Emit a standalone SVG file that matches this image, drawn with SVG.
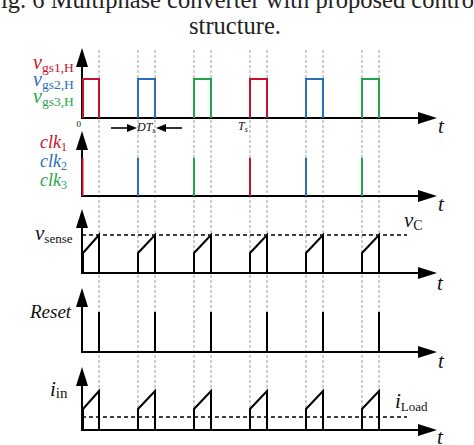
<svg xmlns="http://www.w3.org/2000/svg" width="474" height="445" viewBox="0 0 474 445">
<style>
.title{font-family:"Liberation Serif","Times New Roman",serif;font-size:24.5px;fill:#222}
.lbl{font-family:"Liberation Serif","Times New Roman",serif;fill:#111}
.it{font-style:italic}
.grid{stroke:#9a9a9a;stroke-width:1;stroke-dasharray:3 2;fill:none}
.axis{stroke:#000;stroke-width:2;fill:none}
.sig{stroke:#000;stroke-width:2;fill:none;stroke-linejoin:miter}
.ref{stroke:#000;stroke-width:1.6;stroke-dasharray:4 3;fill:none}
.red{stroke:#c8102e;stroke-width:2;fill:none}
.blue{stroke:#2a6ebb;stroke-width:2;fill:none}
.green{stroke:#1fa64b;stroke-width:2;fill:none}
.thin{stroke:#000;stroke-width:1.6;fill:none}
</style>
<defs>
<marker id="ah" markerUnits="userSpaceOnUse" viewBox="0 0 19 12" markerWidth="19" markerHeight="12" refX="0" refY="6" orient="auto">
<path d="M0,0 L19,6 L0,12 z" fill="#000"/>
</marker>
<marker id="sh" markerUnits="userSpaceOnUse" viewBox="0 0 10 8" markerWidth="10" markerHeight="8" refX="0" refY="4" orient="auto">
<path d="M0,0 L10,4 L0,8 z" fill="#000"/>
</marker>
</defs>

<g id="title">
<text class="title" x="-12.6" y="8">Fig. 6 Multiphase converter with proposed control</text>
<text class="title" x="235" y="34" text-anchor="middle">structure.</text>
</g>

<g id="grid">
<path class="grid" d="M99,50V430M138,50V430M155,50V430M194,50V430M211,50V430M250,50V430M267,50V430M306,50V430M323,50V430M362,50V430M379,50V430"/>
</g>

<g id="axes">
<path class="axis" d="M82,118V67" marker-end="url(#ah)"/>
<path class="axis" d="M81,118H418" marker-end="url(#ah)"/>
<path class="axis" d="M82,196V150" marker-end="url(#ah)"/>
<path class="axis" d="M81,196H418" marker-end="url(#ah)"/>
<path class="axis" d="M82,273V228" marker-end="url(#ah)"/>
<path class="axis" d="M81,273H418" marker-end="url(#ah)"/>
<path class="axis" d="M82,352V307" marker-end="url(#ah)"/>
<path class="axis" d="M81,352H418" marker-end="url(#ah)"/>
<path class="axis" d="M82,430V386" marker-end="url(#ah)"/>
<path class="axis" d="M81,430H418" marker-end="url(#ah)"/>
</g>

<g id="panel-vgs">
<path class="red" d="M83,118V79H99V118M250,118V79H267V118"/>
<path class="blue" d="M138,118V79H155V118M306,118V79H323V118"/>
<path class="green" d="M194,118V79H211V118M362,118V79H379V118"/>
<text class="lbl" x="33" y="69" style="fill:#c8102e"><tspan class="it" font-size="20">v</tspan><tspan font-size="13.5" dy="3">gs1,H</tspan></text>
<text class="lbl" x="33" y="86" style="fill:#2a6ebb"><tspan class="it" font-size="20">v</tspan><tspan font-size="13.5" dy="3">gs2,H</tspan></text>
<text class="lbl" x="33" y="103" style="fill:#1fa64b"><tspan class="it" font-size="20">v</tspan><tspan font-size="13.5" dy="3">gs3,H</tspan></text>
<text class="lbl" x="81" y="127" font-size="9" text-anchor="end">0</text>
<path class="thin" d="M111,128H127" marker-end="url(#sh)"/>
<path class="thin" d="M182,128H166" marker-end="url(#sh)"/>
<text class="lbl it" x="137" y="131" font-size="12">DT<tspan font-size="8" dy="2">s</tspan></text>
<text class="lbl it" x="238" y="130" font-size="12">T<tspan font-size="8" dy="2">s</tspan></text>
<text class="lbl it" x="438" y="133" font-size="21">t</text>
</g>

<g id="panel-clk">
<path class="red" d="M82.5,196V158M250,196V158"/>
<path class="blue" d="M138,196V158M306,196V158"/>
<path class="green" d="M194,196V158M362,196V158"/>
<text class="lbl it" x="40" y="148" font-size="18" style="fill:#c8102e">clk<tspan font-size="12" dy="3" font-style="normal">1</tspan></text>
<text class="lbl it" x="40" y="167" font-size="18" style="fill:#2a6ebb">clk<tspan font-size="12" dy="3" font-style="normal">2</tspan></text>
<text class="lbl it" x="40" y="186" font-size="18" style="fill:#1fa64b">clk<tspan font-size="12" dy="3" font-style="normal">3</tspan></text>
<text class="lbl it" x="438" y="211" font-size="21">t</text>
</g>

<g id="panel-vsense">
<path class="ref" d="M82,235H407"/>
<path class="sig" d="M83,273V253L99,235V273M138,273V253L155,235V273M194,273V253L211,235V273M250,273V253L267,235V273M306,273V253L323,235V273M362,273V253L379,235V273"/>
<text class="lbl" x="35" y="240"><tspan class="it" font-size="21">v</tspan><tspan font-size="13" dy="3">sense</tspan></text>
<text class="lbl" x="404" y="227"><tspan class="it" font-size="21">v</tspan><tspan font-size="14" dy="3">C</tspan></text>
<text class="lbl it" x="437" y="290" font-size="21">t</text>
</g>

<g id="panel-reset">
<path class="sig" d="M99,352V312M155,352V312M211,352V312M267,352V312M323,352V312M379,352V312"/>
<text class="lbl it" x="30" y="318" font-size="19">Reset</text>
<text class="lbl it" x="438" y="368" font-size="21">t</text>
</g>

<g id="panel-iin">
<path class="ref" d="M82,417H407"/>
<path class="sig" d="M83,430V409L99,391V430M138,430V409L155,391V430M194,430V409L211,391V430M250,430V409L267,391V430M306,430V409L323,391V430M362,430V409L379,391V430"/>
<text class="lbl" x="50" y="396"><tspan class="it" font-size="21">i</tspan><tspan font-size="15" dy="2">in</tspan></text>
<text class="lbl" x="395" y="408"><tspan class="it" font-size="21">i</tspan><tspan font-size="13" dy="3">Load</tspan></text>
<text class="lbl it" x="437" y="444" font-size="21">t</text>
</g>
</svg>
